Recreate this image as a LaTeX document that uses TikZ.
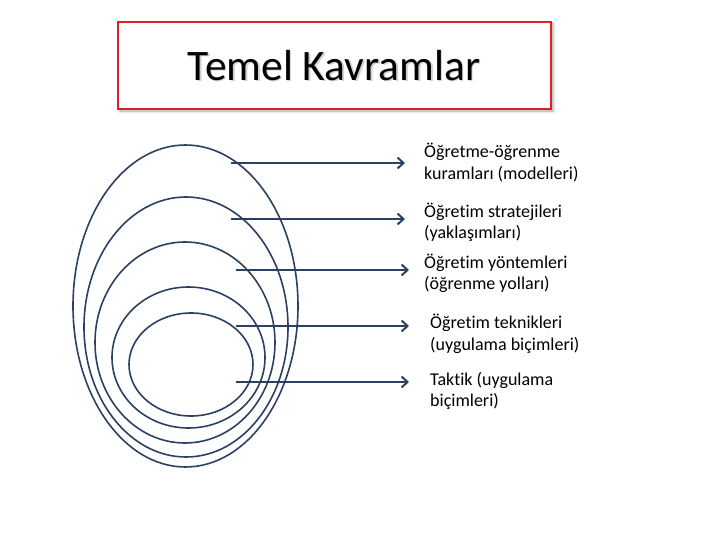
\documentclass[tikz,border=0pt]{standalone}
\usepackage{fontspec}
\setmainfont{Carlito}[RawFeature=-liga]
\usetikzlibrary{arrows.meta,shadows.blur}
\definecolor{navy}{RGB}{44,64,98}
\definecolor{boxred}{RGB}{222,30,40}
\tikzset{
  ring/.style={draw=navy,line width=1.6pt},
  arr/.style={draw=navy,line width=2.2pt,-{Straight Barb[length=6pt,width=11pt,line width=2pt]}},
  lbl/.style={anchor=west,align=left,inner sep=0pt,font=\fontsize{18}{21.5}\selectfont,text=black},
}
\begin{document}
\begin{tikzpicture}[x=1pt,y=-1pt]
\useasboundingbox (0,0) rectangle (720,540);
% title
\node[draw=boxred,line width=2.2pt,fill=white,minimum width=433pt,minimum height=87pt,inner sep=0pt,
      blur shadow={shadow xshift=2pt,shadow yshift=-2pt,shadow blur radius=3pt,shadow opacity=35}] (title) at (334.5,65.5) {};
\node[text=gray!35,font=\fontsize{43.5}{48}\selectfont] (titleshadow) at (335.5,67) {Temel Kavramlar};
\node[font=\fontsize{43.5}{48}\selectfont] (titletext) at (334,65.5) {Temel Kavramlar};
% ellipses
\draw[ring] (185.5,306) ellipse [x radius=112.5, y radius=161];
\draw[ring] (186,327) ellipse [x radius=102, y radius=130];
\draw[ring] (185,342.5) ellipse [x radius=90, y radius=100.5];
\draw[ring] (188.5,357.5) ellipse [x radius=76.5, y radius=70.5];
\draw[ring] (191,364.5) ellipse [x radius=62, y radius=51.5];
% labels
\node[lbl] (t1) at (424,162.5) {Öğretme-öğrenme\\kuramları (modelleri)};
\node[lbl] (t2) at (424,222.5) {Öğretim stratejileri\\(yaklaşımları)};
\node[lbl] (t3) at (424,273.5) {Öğretim yöntemleri\\(öğrenme yolları)};
\node[lbl] (t4) at (430,334) {Öğretim teknikleri\\(uygulama biçimleri)};
\node[lbl] (t5) at (430,391) {Taktik (uygulama\\biçimleri)};
% arrow endpoints
\coordinate (s1) at (231,163); \coordinate (e1) at (405,163);
\coordinate (s2) at (231,219); \coordinate (e2) at (405,219);
\coordinate (s3) at (236,270); \coordinate (e3) at (409,270);
\coordinate (s4) at (236,326); \coordinate (e4) at (409,326);
\coordinate (s5) at (236,382); \coordinate (e5) at (409,382);
\draw[arr] (s1) -- (e1);
\draw[arr] (s2) -- (e2);
\draw[arr] (s3) -- (e3);
\draw[arr] (s4) -- (e4);
\draw[arr] (s5) -- (e5);
\end{tikzpicture}
\end{document}
